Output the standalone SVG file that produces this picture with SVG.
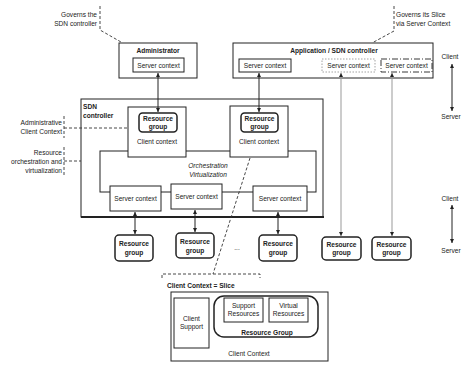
<svg xmlns="http://www.w3.org/2000/svg" width="474" height="367" viewBox="0 0 474 367">
<style>
text{font-family:"Liberation Sans",Arial,sans-serif;font-size:6.6px;fill:#222}
.b{font-weight:bold}
.c{text-anchor:middle}
.r{text-anchor:end}
.it{font-style:italic}
.box{fill:#fff;stroke:#222;stroke-width:1}
.rg{fill:#fff;stroke:#222;stroke-width:1.5}
.dash{fill:none;stroke:#333;stroke-width:0.9;stroke-dasharray:3 2}
.ln{fill:none;stroke:#222;stroke-width:1}
.gl{fill:none;stroke:#999;stroke-width:1}
</style>
<defs>
<marker id="a" viewBox="0 0 6 6" refX="6" refY="3" markerWidth="4" markerHeight="4" orient="auto-start-reverse"><path d="M0,0L6,3L0,6z" fill="#222"/></marker>
<marker id="ag" viewBox="0 0 6 6" refX="6" refY="3" markerWidth="4" markerHeight="4" orient="auto-start-reverse"><path d="M0,0L6,3L0,6z" fill="#222"/></marker>
</defs>

<g id="annotations">
<text class="r" x="97" y="17">Governs the</text>
<text class="r" x="97" y="26">SDN controller</text>
<text x="396" y="17">Governs its Slice</text>
<text x="396" y="26">via Server Context</text>
<text class="r" x="62" y="125">Administrative</text>
<text class="r" x="62" y="134">Client Context</text>
<text class="r" x="62" y="155">Resource</text>
<text class="r" x="62" y="164">orchestration and</text>
<text class="r" x="62" y="173">virtualization</text>
<text class="c" x="450" y="59">Client</text>
<text class="c" x="451" y="119">Server</text>
<text class="c" x="450" y="201">Client</text>
<text class="c" x="451" y="253">Server</text>
</g>

<g id="sdn-controller">
<rect class="box" x="81" y="99" width="242" height="118"/>
<line x1="81" y1="217" x2="324" y2="217" stroke="#222" stroke-width="2"/>
<text class="b" x="83" y="109">SDN</text>
<text class="b" x="83" y="118">controller</text>
</g>

<g id="orchestration">
<rect class="box" x="100" y="151" width="216" height="41"/>
<text class="c it" x="208" y="168">Orchestration</text>
<text class="c it" x="208" y="176.5">Virtualization</text>
</g>

<g id="client-context-1">
<rect class="box" x="128" y="107" width="58" height="50"/>
<rect class="rg" x="139" y="113" width="38" height="19" rx="3.5"/>
<text class="c b" x="158" y="120.5">Resource</text>
<text class="c b" x="158" y="129">group</text>
<text class="c" x="157" y="144">Client context</text>
</g>

<g id="client-context-2">
<rect class="box" x="230" y="106" width="58" height="51"/>
<rect class="rg" x="241" y="113" width="37" height="19" rx="3.5"/>
<text class="c b" x="259.5" y="120.5">Resource</text>
<text class="c b" x="259.5" y="129">group</text>
<text class="c" x="259" y="144">Client context</text>
</g>

<g id="sc-orch-1"><rect class="box" x="110" y="186" width="51" height="25"/><text class="c" x="135.5" y="201">Server context</text></g>
<g id="sc-orch-2"><rect class="box" x="171" y="184" width="51" height="25"/><text class="c" x="196.5" y="199">Server context</text></g>
<g id="sc-orch-3"><rect class="box" x="253" y="186" width="54" height="25"/><text class="c" x="280" y="201">Server context</text></g>

<g id="administrator">
<rect class="box" x="119" y="43" width="78" height="35" stroke-width="1.8"/>
<text class="c b" x="158" y="53">Administrator</text>
<rect class="box" x="133" y="58" width="51" height="14"/>
<text class="c" x="158.5" y="67.5">Server context</text>
</g>

<g id="application">
<rect class="box" x="233" y="43" width="200" height="35" stroke="#444"/>
<text class="c b" x="334" y="53">Application / SDN controller</text>
<rect class="box" x="239" y="59" width="52" height="13"/>
<text class="c" x="265" y="67.5">Server context</text>
<rect x="322" y="59" width="53" height="13" fill="#fff" stroke="#999" stroke-width="0.9" stroke-dasharray="1.5 1.5"/>
<text class="c" x="348.5" y="67.5">Server context</text>
<rect x="381" y="59" width="51" height="13" fill="#fff" stroke="#222" stroke-width="0.9" stroke-dasharray="6 2 1 2"/>
<text class="c" x="406.5" y="67.5">Server context</text>
</g>

<g id="rg-1"><rect class="rg" x="115" y="235" width="38" height="26" rx="4"/><text class="c b" x="134" y="246">Resource</text><text class="c b" x="134" y="254.5">group</text></g>
<g id="rg-2"><rect class="rg" x="176" y="233" width="38" height="25" rx="4"/><text class="c b" x="195" y="244">Resource</text><text class="c b" x="195" y="252.5">group</text></g>
<g id="rg-3"><rect class="rg" x="259" y="235" width="38" height="26" rx="4"/><text class="c b" x="278" y="246">Resource</text><text class="c b" x="278" y="254.5">group</text></g>
<g id="rg-4"><rect class="rg" x="322" y="237" width="39" height="23" rx="4"/><text class="c b" x="341.5" y="246.5">Resource</text><text class="c b" x="341.5" y="254.5">group</text></g>
<g id="rg-5"><rect class="rg" x="372" y="237" width="39" height="23" rx="4"/><text class="c b" x="391.5" y="246.5">Resource</text><text class="c b" x="391.5" y="254.5">group</text></g>
<text class="c" x="237" y="250" font-size="9">...</text>

<g id="slice">
<text class="b" x="167" y="288" font-size="8.6">Client Context = Slice</text>
<rect class="box" x="171" y="292" width="157" height="69"/>
<rect class="box" x="174" y="298" width="35" height="50"/>
<text class="c" x="191.5" y="321" font-size="6">Client</text>
<text class="c" x="191.5" y="329" font-size="6">Support</text>
<rect class="rg" x="214" y="296" width="104" height="41" rx="10"/>
<rect class="box" x="224" y="298" width="39" height="24"/>
<text class="c" x="243.5" y="308" font-size="6">Support</text>
<text class="c" x="243.5" y="316" font-size="6">Resources</text>
<rect class="box" x="269" y="298" width="39" height="24"/>
<text class="c" x="288.5" y="308" font-size="6">Virtual</text>
<text class="c" x="288.5" y="316" font-size="6">Resources</text>
<text class="c b" x="267" y="334.5" font-size="7.2">Resource Group</text>
<text class="c" x="249" y="356">Client Context</text>
</g>

<g id="connectors">
<path class="dash" d="M100,6V30L121,42"/>
<path class="dash" d="M394,6V31L372,43"/>
<path class="dash" d="M64,116V138M64,128H128"/>
<path class="dash" d="M64,147V177M64,161H81"/>
<path class="dash" d="M250,158L213,274"/>
<path class="dash" d="M162,278V274H260V278"/>
<line class="ln" x1="158" y1="73" x2="158" y2="112" marker-start="url(#a)" marker-end="url(#a)"/>
<line class="ln" x1="259" y1="73" x2="259" y2="112" marker-start="url(#a)" marker-end="url(#a)"/>
<line class="ln" x1="135" y1="212" x2="135" y2="234" marker-start="url(#a)" marker-end="url(#a)"/>
<line class="ln" x1="195" y1="210" x2="195" y2="232" marker-start="url(#a)" marker-end="url(#a)"/>
<line class="ln" x1="278" y1="212" x2="278" y2="234" marker-start="url(#a)" marker-end="url(#a)"/>
<line class="gl" x1="341" y1="73" x2="341" y2="236" marker-start="url(#ag)" marker-end="url(#ag)"/>
<line class="gl" x1="392" y1="73" x2="392" y2="236" marker-start="url(#ag)" marker-end="url(#ag)"/>
<line class="ln" x1="452" y1="64" x2="452" y2="111" stroke-width="1.4" marker-start="url(#a)" marker-end="url(#a)"/>
<line class="ln" x1="452" y1="205" x2="452" y2="243" stroke-width="1.4" marker-start="url(#a)" marker-end="url(#a)"/>
</g>
</svg>
